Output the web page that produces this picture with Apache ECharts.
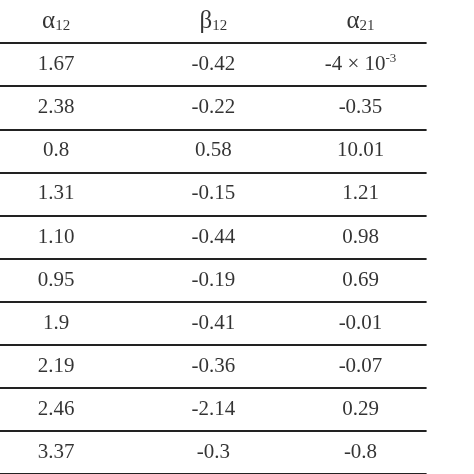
<!DOCTYPE html><html><head><meta charset="utf-8"><script src="https://cdn.jsdelivr.net/npm/echarts@6/dist/echarts.min.js"></script>
<style>html,body{margin:0;background:#fff}#c{width:474px;height:474px}</style></head><body><div id="c"></div><script>
const columns = ['{g|α}{s|12}', '{g|β}{s|12}', '{g|α}{s|21}'];
const alpha12 = ['1.67','2.38','0.8','1.31','1.10','0.95','1.9','2.19','2.46','3.37'];
const beta12 = ['-0.42','-0.22','0.58','-0.15','-0.44','-0.19','-0.41','-0.36','-2.14','-0.3'];
const alpha21 = ['-4 × 10{p|-3}','-0.35','10.01','1.21','0.98','0.69','-0.01','-0.07','0.29','-0.8'];
const rows = ['h'].concat(alpha12.map((_,i)=>'r'+i));
const cols = ['c0','c1','c2'];
const offsets = [[-15,0],[0,0],[5,0]];
const rich = {
  g:{fontFamily:'Liberation Serif',fontSize:25,color:'#000'},
  s:{fontFamily:'Liberation Serif',fontSize:15,color:'#000',padding:[9,0,0,0]},
  p:{fontFamily:'Liberation Serif',fontSize:13,color:'#000',padding:[0,0,12,0]}
};
function mk(ci, vals){
  return {type:'scatter',symbolSize:0,silent:true,
    data:[[cols[ci],'h',columns[ci]]].concat(vals.map((v,i)=>[cols[ci],'r'+i,v])),
    label:{show:true,position:'inside',offset:offsets[ci],formatter:p=>p.data[2],fontFamily:'Liberation Serif',fontSize:21,color:'#000',rich:rich}};
}
const chart = echarts.init(document.getElementById('c'));
chart.setOption({
  animation:false,
  grid:{left:0,top:-4,height:490},
  xAxis:{type:'category',data:cols,show:false},
  yAxis:{type:'category',data:rows,inverse:true,boundaryGap:true,axisLine:{show:false},axisTick:{show:false},axisLabel:{show:false},
    splitLine:{show:true,interval:(i)=>i>0,lineStyle:{color:'#222',width:2}}},
  series:[mk(0,alpha12),mk(1,beta12),mk(2,alpha21)]
});
</script></body></html>
